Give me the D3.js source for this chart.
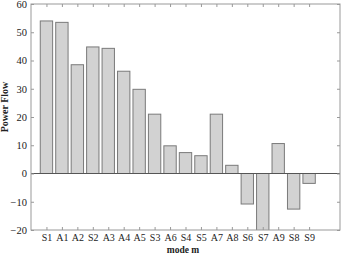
<!DOCTYPE html>
<html><head><meta charset="utf-8">
<script src="https://cdn.jsdelivr.net/npm/d3@7/dist/d3.min.js"></script>
<style>body{margin:0;background:#fff}svg{display:block}</style>
</head><body>
<script>
const categories = ["S1","A1","A2","S2","A3","A4","A5","S3","A6","S4","S5","A7","A8","S6","S7","A9","S8","S9"];
const values = [54, 53.5, 38.5, 44.8, 44.3, 36.2, 29.8, 21, 9.8, 7.4, 6.3, 21, 2.9, -10.8, -20.5, 10.6, -12.6, -3.5];
const yTicks = [-20, -10, 0, 10, 20, 30, 40, 50, 60];

const W = 342, H = 254;
const L = 31, R = 340, T = 4, B = 230;
const svg = d3.select("body").append("svg").attr("width", W).attr("height", H);
const x = d3.scaleLinear().domain([0, categories.length + 2]).range([L, R]);
const y = d3.scaleLinear().domain([-20, 60]).range([B, T]);
const bw = (x(1) - x(0)) * 0.8;
const font = "'Liberation Serif', 'DejaVu Serif', serif";
const gridC = "#999";

svg.append("defs").append("clipPath").attr("id", "c")
  .append("rect").attr("x", L).attr("y", T).attr("width", R - L).attr("height", B - T);

svg.append("g").attr("clip-path", "url(#c)").selectAll("rect").data(values).join("rect")
  .attr("x", (d, i) => x(i + 1) - bw / 2)
  .attr("width", bw)
  .attr("y", d => y(Math.max(0, d)))
  .attr("height", d => Math.abs(y(d) - y(0)))
  .attr("fill", "#d2d2d2").attr("stroke", "#7a7a7a").attr("stroke-width", 1);

// zero line
svg.append("line").attr("x1", L).attr("x2", R).attr("y1", y(0)).attr("y2", y(0))
  .attr("stroke", "#555").attr("stroke-width", 1);

// frame
svg.append("rect").attr("x", L).attr("y", T).attr("width", R - L).attr("height", B - T)
  .attr("fill", "none").attr("stroke", gridC).attr("stroke-width", 1);

// y axis (left) and right ticks
const ya = svg.append("g").attr("transform", `translate(${L},0)`)
  .call(d3.axisLeft(y).tickValues(yTicks).tickSize(-3).tickPadding(4)
    .tickFormat(d => d < 0 ? "\u2212" + Math.abs(d) : d));
ya.select(".domain").remove();
ya.selectAll("line").attr("stroke", gridC);
ya.selectAll("text").attr("font-family", font).attr("font-size", 10.5).attr("fill", "#222");

const yr = svg.append("g").attr("transform", `translate(${R},0)`)
  .call(d3.axisRight(y).tickValues(yTicks).tickSize(-3).tickFormat(""));
yr.select(".domain").remove();
yr.selectAll("line").attr("stroke", gridC);

// x axis bottom and top
const xa = svg.append("g").attr("transform", `translate(0,${B})`)
  .call(d3.axisBottom(x).tickValues(d3.range(1, categories.length + 1)).tickSize(-3).tickPadding(4)
    .tickFormat(d => categories[d - 1]));
xa.select(".domain").remove();
xa.selectAll("line").attr("stroke", gridC);
xa.selectAll("text").attr("font-family", font).attr("font-size", 10).attr("fill", "#222");

const xt = svg.append("g").attr("transform", `translate(0,${T})`)
  .call(d3.axisTop(x).tickValues(d3.range(1, categories.length + 1)).tickSize(-3).tickFormat(""));
xt.select(".domain").remove();
xt.selectAll("line").attr("stroke", gridC);

svg.append("text").attr("x", 183).attr("y", 253).attr("text-anchor", "middle")
  .attr("font-family", font).attr("font-size", 9.5).attr("font-weight", "bold").attr("fill", "#222")
  .text("mode m");
svg.append("text").attr("transform", `translate(8,${(T + B) / 2 - 10}) rotate(-90)`)
  .attr("text-anchor", "middle")
  .attr("font-family", font).attr("font-size", 10).attr("font-weight", "bold").attr("fill", "#222")
  .text("Power Flow");
</script>
</body></html>
